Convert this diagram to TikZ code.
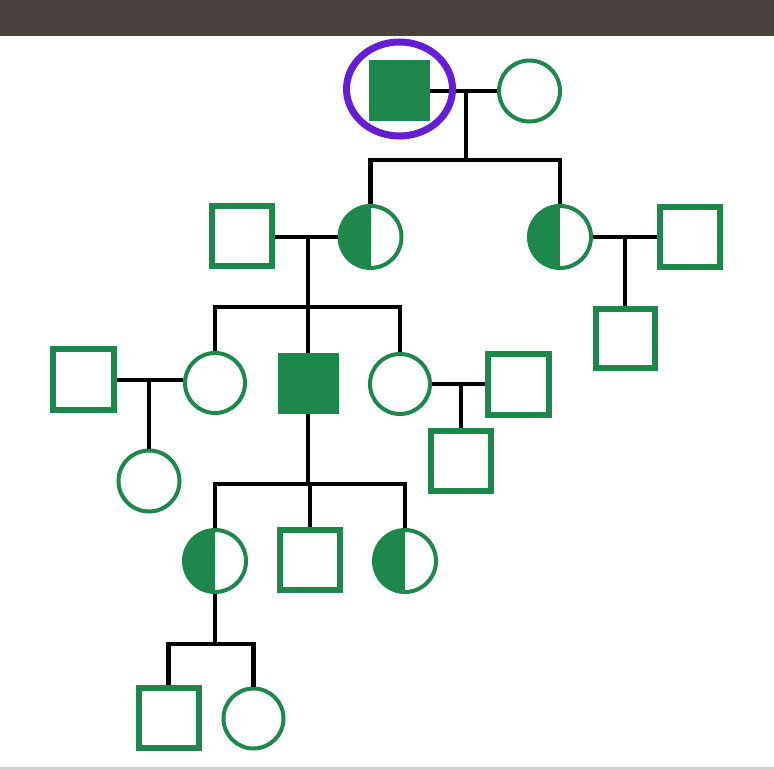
\documentclass[tikz,border=0pt]{standalone}
\usetikzlibrary{shapes.geometric}
\definecolor{pg}{RGB}{30,136,76}
\definecolor{pp}{RGB}{102,30,212}
\definecolor{topbar}{RGB}{74,64,61}
\definecolor{botline}{RGB}{208,208,208}
\begin{document}
\begin{tikzpicture}[x=1pt,y=-1pt,
  male/.style={rectangle, draw=pg, line width=6pt, minimum size=60pt, inner sep=0pt, fill=white},
  affm/.style={rectangle, draw=pg, fill=pg, line width=5pt, minimum size=56pt, inner sep=0pt},
  female/.style={circle, draw=pg, line width=4pt, minimum size=61pt, inner sep=0pt, fill=white},
  carrier/.style={circle, draw=pg, line width=4pt, minimum size=62pt, inner sep=0pt, fill=white,
     path picture={\fill[pg] (path picture bounding box.south west) rectangle (path picture bounding box.north);}},
  link/.style={draw=black, line width=4.5pt},
  ring/.style={draw=pp, line width=7pt}]
\useasboundingbox (0,0) rectangle (774,770);
\fill[topbar] (0,0) rectangle (774,36);
\fill[botline] (0,767) rectangle (774,770);

% Generation I
\node[affm] (I1) at (399.5,91) {};
\node[female] (I2) at (529.5,91) {};
\coordinate (mI) at (466,91);
\coordinate (sI) at (466,160);

% Generation II
\node[male] (S1) at (241.5,236) {};
\node[carrier] (II1) at (370.5,237) {};
\node[carrier] (II2) at (560,237) {};
\node[male] (S2) at (689.5,237) {};
\node[male, minimum size=59pt] (II3) at (625,338) {};
\coordinate (mIIa) at (308,237);
\coordinate (sIIa) at (308,307);
\coordinate (mIIb) at (625,237);

% Generation III
\node[male, minimum size=61pt] (S3) at (83.5,379) {};
\node[female, minimum size=60pt] (III1) at (215,383) {};
\node[affm] (III2) at (308,383) {};
\node[female, minimum size=60pt] (III3) at (400,384) {};
\node[male, minimum size=61pt] (S4) at (518,384) {};
\node[female] (III4) at (149,481) {};
\node[male] (III5) at (461,461) {};
\coordinate (mIIIa) at (149,380);
\coordinate (mIIIb) at (461,384);
\coordinate (sIII) at (308,484);

% Generation IV
\node[carrier] (IV1) at (215,561) {};
\node[male] (IV2) at (310,560) {};
\node[carrier] (IV3) at (405,561) {};
\coordinate (sIV) at (215,644);

% Generation V
\node[male] (V1) at (168.5,717.5) {};
\node[female, minimum size=60pt] (V2) at (253.5,718.5) {};

% Connectors
\draw[link] (I1.east) -- (I2.west);
\draw[link] (mI) -- (sI);
\draw[link] (II1.north) |- (sI);
\draw[link] (II2.north) |- (sI);

\draw[link] (S1.east |- II1.west) -- (II1.west);
\draw[link] (mIIa) -- (sIIa);
\draw[link] (III1.north) |- (sIIa);
\draw[link] (III3.north) |- (sIIa);
\draw[link] (III2.north) -- (sIIa);

\draw[link] (II2.east) -- (S2.west);
\draw[link] (mIIb) -- (II3.north);

\draw[link] (S3.east |- mIIIa) -- (mIIIa -| III1.west);
\draw[link] (mIIIa) -- (III4.north);
\draw[link] (III3.east) -- (S4.west);
\draw[link] (mIIIb) -- (III5.north);

\draw[link] (III2.south) -- (sIII);
\draw[link] (IV1.north) |- (sIII);
\draw[link] (IV3.north) |- (sIII);
\draw[link] (IV2.north) -- (IV2.north |- sIII);

\draw[link] (IV1.south) -- (sIV);
\draw[link] (V1.north) |- (sIV);
\draw[link] (V2.north) |- (sIV);

% highlight ring round the affected founder
\node[ring, ellipse, minimum width=106pt, minimum height=94pt, inner sep=0pt] (R) at (399.5,89) {};
\end{tikzpicture}
\end{document}
